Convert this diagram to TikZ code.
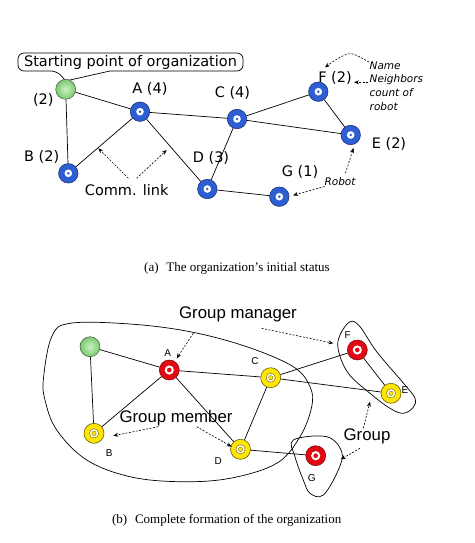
\documentclass[tikz,border=0pt]{standalone}
\usepackage{fontspec}
\setmainfont{Liberation Serif}
\newfontfamily\dvsans{DejaVu Sans}
\newfontfamily\libsans{Liberation Sans}
\usetikzlibrary{arrows.meta}
\definecolor{rbblue}{RGB}{45,95,210}
\definecolor{rbblueline}{RGB}{20,40,110}
\definecolor{rbred}{RGB}{225,10,20}
\definecolor{rbredline}{RGB}{120,0,0}
\definecolor{rbyel}{RGB}{255,230,0}
\definecolor{rbyelline}{RGB}{110,95,0}
\definecolor{rbgreenin}{RGB}{205,242,195}
\definecolor{rbgreenout}{RGB}{120,200,110}
\definecolor{rbgreenline}{RGB}{70,90,70}
\tikzset{
  bluebot/.style={circle, inner sep=0pt, minimum size=19.5pt, fill=rbblue, draw=rbblueline, line width=0.5pt,
    path picture={\fill[white] (path picture bounding box.center) circle (3.8pt);
                  \fill[rbblue] (path picture bounding box.center) circle (1.4pt);}},
  redbot/.style={circle, inner sep=0pt, minimum size=20pt, fill=rbred, draw=rbredline, line width=0.5pt,
    path picture={\fill[white] (path picture bounding box.center) circle (4.6pt);
                  \fill[rbred] (path picture bounding box.center) circle (2.3pt);}},
  yelbot/.style={circle, inner sep=0pt, minimum size=20pt, fill=rbyel, draw=rbyelline, line width=0.6pt,
    path picture={\filldraw[fill=white, draw=rbyelline, line width=0.4pt] (path picture bounding box.center) circle (4.6pt);
                  \filldraw[fill=rbyel, draw=rbyelline, line width=0.3pt] (path picture bounding box.center) circle (2.2pt);}},
  startbot/.style={circle, inner sep=0pt, minimum size=20pt, draw=rbgreenline, line width=0.5pt,
    inner color=rbgreenin, outer color=rbgreenout},
  link/.style={line width=0.7pt, black},
  hint/.style={line width=0.6pt, dash pattern=on 2pt off 1.5pt, -{Stealth[length=5pt,width=4pt]}},
  toplbl/.style={font=\dvsans\fontsize{14.5}{16}\selectfont, inner sep=0pt},
  smalllbl/.style={font=\libsans\fontsize{10}{12}\selectfont, inner sep=0pt},
  bigllbl/.style={font=\libsans\fontsize{16.8}{19}\selectfont, inner sep=0pt},
  notelbl/.style={font=\dvsans\itshape\fontsize{10.5}{13.8}\selectfont, inner sep=0pt, align=left},
  caplbl/.style={font=\fontsize{13}{15}\selectfont, inner sep=0pt},
  blob/.style={line width=0.7pt, black}
}
\begin{document}
\begin{tikzpicture}[x=1pt,y=-1pt]
\useasboundingbox[fill=white] (0,0) rectangle (474,543);

% ===== (a) initial status =====
\draw[line width=0.7pt, rounded corners=6pt] (110,71) -- (243,71) -- (243,53) -- (18,53) -- (18,71) -- (57,71) [sharp corners] -- (65,80) -- (70,80) -- cycle;
\node[toplbl] (startlbl) at (130.5,62) {Starting point of organization};

\node[startbot] (s1) at (65.7,89.3) {};
\node[bluebot] (a1) at (140,111.7) {};
\node[bluebot] (b1) at (68.3,173.3) {};
\node[bluebot] (c1) at (237,119) {};
\node[bluebot] (d1) at (207.3,189) {};
\node[bluebot] (e1) at (350.7,135) {};
\node[bluebot] (f1) at (318.3,91.7) {};
\node[bluebot] (g1) at (279.3,196.7) {};

\draw[link] (s1) -- (a1);
\draw[link] (s1) -- (b1);
\draw[link] (a1) -- (b1);
\draw[link] (a1) -- (c1);
\draw[link] (a1) -- (d1);
\draw[link] (c1) -- (d1);
\draw[link] (c1) -- (f1);
\draw[link] (c1) -- (e1);
\draw[link] (f1) -- (e1);
\draw[link] (d1) -- (g1);

\node[toplbl] (s1lbl) at (43.3,100) {(2)};
\node[toplbl] (a1lbl) at (150,89.3) {A (4)};
\node[toplbl] (c1lbl) at (232.5,92.7) {C (4)};
\node[toplbl] (b1lbl) at (41.7,156.7) {B (2)};
\node[toplbl] (d1lbl) at (211,158.3) {D (3)};
\node[toplbl] (f1lbl) at (335,78.3) {F (2)};
\node[toplbl] (e1lbl) at (389,144) {E (2)};
\node[toplbl] (g1lbl) at (300,171.7) {G (1)};
\node[toplbl] (comm) at (126.7,190) {Comm. link};

\node[notelbl, anchor=west] (note) at (369.5,86) {Name\\Neighbors\\count of\\robot};
\node[notelbl] (robot) at (340,181.7) {Robot};

\coordinate (n1s) at (369,62);
\coordinate (n1e) at (325,67.5);
\coordinate (n2s) at (368,82.3);
\coordinate (n2e) at (354,82.3);
\coordinate (r1s) at (345.5,173);
\coordinate (r1e) at (353.5,148);
\coordinate (r2s) at (324.5,186.5);
\coordinate (r2e) at (293,195.3);
\coordinate (c1s) at (128.3,178.3);
\coordinate (c1e) at (98.3,148.3);
\coordinate (c2s) at (136.7,178.3);
\coordinate (c2e) at (166.7,150);

\draw[hint] (n1s) .. controls (360,57) and (352,52) .. (347,54) .. controls (340,57) and (333,61) .. (n1e);
\draw[hint] (n2s) -- (n2e);
\draw[hint] (r1s) -- (r1e);
\draw[hint] (r2s) -- (r2e);
\draw[hint] (c1s) -- (c1e);
\draw[hint] (c2s) -- (c2e);

\node[caplbl] (capa) at (237,268.3) {(a)\hspace{0.35em} The organization’s initial status};

% ===== (b) complete formation =====
\draw[blob] plot[smooth cycle, tension=0.6] coordinates {
  (43.5,378) (51.7,336.7) (70,323.3) (130,324) (190,331.7) (246.7,346.7)
  (293.3,366.7) (310,386.7) (311.7,406.7) (300,436.7) (276.7,463.3)
  (230,478.3) (180,481.7) (130,476.7) (86.7,460) (56.7,430) (45,400)};
\draw[blob] plot[smooth cycle, tension=0.6] coordinates {
  (350,321.7) (340,335) (338.3,350) (348.3,373.3) (370,393.3) (390,408.3)
  (403.3,413.3) (413.3,407.3) (415,398.3) (405,385) (376.7,351.7) (360,326.7)};
\draw[blob] plot[smooth cycle, tension=0.6] coordinates {
  (293.3,440) (326.7,436.7) (341.7,451.7) (338.3,470) (323.3,495)
  (310,493.3) (303.3,480) (295,456.7)};

\node[startbot] (s2) at (90,346.7) {};
\node[redbot] (a2) at (169.3,370) {};
\node[yelbot] (b2) at (94,433.3) {};
\node[yelbot] (c2) at (270.7,377.7) {};
\node[yelbot] (d2) at (240.5,449.3) {};
\node[yelbot] (e2) at (391,393.3) {};
\node[redbot] (f2) at (357.3,350) {};
\node[redbot] (g2) at (315.7,455.7) {};

\draw[link] (s2) -- (a2);
\draw[link] (s2) -- (b2);
\draw[link] (a2) -- (b2);
\draw[link] (a2) -- (c2);
\draw[link] (a2) -- (d2);
\draw[link] (c2) -- (d2);
\draw[link] (c2) -- (f2);
\draw[link] (c2) -- (e2);
\draw[link] (f2) -- (e2);
\draw[link] (d2) -- (g2);

\node[smalllbl] (a2lbl) at (167.7,352.7) {A};
\node[smalllbl] (b2lbl) at (109.3,452.7) {B};
\node[smalllbl] (c2lbl) at (255,361) {C};
\node[smalllbl] (d2lbl) at (218.3,460.7) {D};
\node[smalllbl] (e2lbl) at (405,390) {E};
\node[smalllbl] (f2lbl) at (347.7,335) {F};
\node[smalllbl] (g2lbl) at (311.7,478.3) {G};

\node[bigllbl] (gman) at (238,314) {Group manager};
\node[bigllbl] (gmem) at (176,417.7) {Group member};
\node[bigllbl] (grp) at (367,436.7) {Group};

\coordinate (m1s) at (193.3,333.3);
\coordinate (m1e) at (176.7,358.3);
\coordinate (m2s) at (261.7,328.3);
\coordinate (m2e) at (333.3,343.3);
\coordinate (b1s) at (158.3,426.7);
\coordinate (b1e) at (113.3,435.7);
\coordinate (b2s) at (196.7,426.7);
\coordinate (b2e) at (231.7,446.7);
\coordinate (g1s) at (363.3,428.3);
\coordinate (g1e) at (370,401.7);
\coordinate (g2s) at (360,448.3);
\coordinate (g2e) at (340.7,459.3);

\draw[hint] (m1s) -- (m1e);
\draw[hint] (m2s) -- (m2e);
\draw[hint] (b1s) -- (b1e);
\draw[hint] (b2s) -- (b2e);
\draw[hint] (g1s) -- (g1e);
\draw[hint] (g2s) -- (g2e);

\node[caplbl] (capb) at (226.7,520) {(b)\hspace{0.35em} Complete formation of the organization};
\end{tikzpicture}
\end{document}
